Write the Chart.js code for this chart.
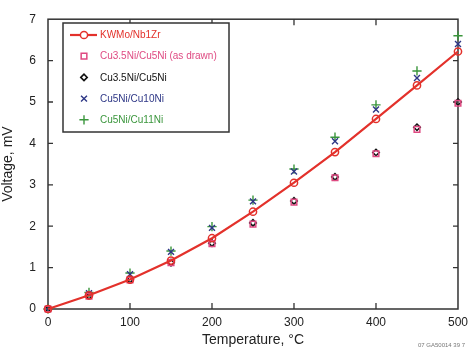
<!DOCTYPE html>
<html><head><meta charset="utf-8">
<script src="https://cdn.jsdelivr.net/npm/chart.js@4"></script>
<style>html,body{margin:0;padding:0;background:#fff}#wrap{width:474px;height:349px;position:relative}</style>
</head><body><div id="wrap"><canvas id="c" width="474" height="349"></canvas></div>
<script>
const temperatures=[0,50,100,150,200,250,300,350,400,450,500];
const kwMoNb1Zr=[0,0.33,0.71,1.17,1.71,2.35,3.05,3.79,4.59,5.40,6.22];
const cu35AsDrawn=[0,0.31,0.70,1.12,1.58,2.05,2.58,3.17,3.75,4.34,4.97];
const cu35Cu5=[0,0.32,0.71,1.12,1.59,2.08,2.61,3.19,3.78,4.39,5.00];
const cu5Cu10=[0,0.38,0.84,1.38,1.96,2.60,3.32,4.05,4.82,5.58,6.40];
const cu5Cu11=[0,0.40,0.87,1.40,1.99,2.63,3.38,4.15,4.93,5.75,6.60];
const xTicks=[0,100,200,300,400,500];
const yTicks=[0,1,2,3,4,5,6,7];
const seriesNames=['KWMo/Nb1Zr','Cu3.5Ni/Cu5Ni (as drawn)','Cu3.5Ni/Cu5Ni','Cu5Ni/Cu10Ni','Cu5Ni/Cu11Ni'];

const RED='#e3312b',PINK='#df4a82',BLACK='#111111',NAVY='#2e3786',GREEN='#3a963c';
const pts=a=>temperatures.map((t,i)=>({x:t,y:a[i]}));

const styles=[
 {color:RED,style:'circle',r:3.6,line:true,w:1.5},
 {color:PINK,style:'rect',r:4,line:false,w:1.5},
 {color:BLACK,style:'rectRot',r:3.2,line:false,w:1.6},
 {color:NAVY,style:'crossRot',r:4.2,line:false,w:1.4},
 {color:GREEN,style:'cross',r:4.6,line:false,w:1.4}
];
const allSeries=[kwMoNb1Zr,cu35AsDrawn,cu35Cu5,cu5Cu10,cu5Cu11];

const datasets=allSeries.map((s,i)=>({
 label:seriesNames[i],data:pts(s),
 showLine:styles[i].line,borderColor:styles[i].color,borderWidth:styles[i].line?2.2:styles[i].w,
 pointStyle:styles[i].style,pointRadius:styles[i].r,pointBorderColor:styles[i].color,
 pointBorderWidth:styles[i].w,pointBackgroundColor:'rgba(0,0,0,0)',tension:0,clip:false
}));

const framePlugin={id:'frame',
 beforeDatasetsDraw(chart){
  const {ctx,chartArea:a,scales:{x,y}}=chart;
  ctx.save();ctx.strokeStyle='#333';ctx.lineWidth=1.5;
  ctx.strokeRect(a.left,a.top,a.right-a.left,a.bottom-a.top);
  ctx.lineWidth=1.3;ctx.beginPath();
  xTicks.slice(1,-1).forEach(v=>{const px=x.getPixelForValue(v);
   ctx.moveTo(px,a.bottom);ctx.lineTo(px,a.bottom-6);ctx.moveTo(px,a.top);ctx.lineTo(px,a.top+6);});
  yTicks.slice(1,-1).forEach(v=>{const py=y.getPixelForValue(v);
   ctx.moveTo(a.left,py);ctx.lineTo(a.left+5,py);ctx.moveTo(a.right,py);ctx.lineTo(a.right-5,py);});
  ctx.stroke();ctx.restore();
 },
 afterDraw(chart){
  const ctx=chart.ctx;ctx.save();
  ctx.fillStyle='#fff';ctx.fillRect(63,23,166,109);
  ctx.strokeStyle='#333';ctx.lineWidth=1.5;ctx.strokeRect(63,23,166,109);
  ctx.font='10px "Liberation Sans", Arial, sans-serif';ctx.textBaseline='middle';ctx.textAlign='left';
  seriesNames.forEach((n,i)=>{
   const yy=35+i*21.2, st=styles[i];
   if(st.line){ctx.strokeStyle=st.color;ctx.lineWidth=2.2;ctx.beginPath();ctx.moveTo(70,yy);ctx.lineTo(97,yy);ctx.stroke();}
   ctx.strokeStyle=st.color;ctx.lineWidth=st.w;
   ctx.fillStyle=st.line?'#fff':'rgba(0,0,0,0)';
   Chart.helpers.drawPoint(ctx,{pointStyle:st.style,radius:st.r,borderWidth:st.w,rotation:0},84,yy);
   ctx.fillStyle=st.color;ctx.fillText(n,100,yy+0.5);
  });
  ctx.font='6px "Liberation Sans", Arial, sans-serif';ctx.fillStyle='#777';ctx.textAlign='left';
  ctx.fillText('07 GA50014 39 7',418,345);
  ctx.restore();
 }
};

new Chart(document.getElementById('c'),{
 type:'scatter',
 data:{datasets},
 options:{
  responsive:false,animation:false,devicePixelRatio:1,
  layout:{padding:{top:6,right:12,left:0,bottom:0}},
  plugins:{legend:{display:false},tooltip:{enabled:false}},
  scales:{
   x:{type:'linear',min:0,max:500,
    afterFit(s){s.height=40;},
    afterBuildTicks(s){s.ticks=xTicks.map(v=>({value:v}));},
    ticks:{color:'#222',font:{size:12,family:'"Liberation Sans", Arial, sans-serif'},padding:6,maxRotation:0,autoSkip:false},
    grid:{display:false,drawTicks:false},border:{display:false},
    title:{display:true,text:'Temperature, °C',color:'#222',font:{size:14,family:'"Liberation Sans", Arial, sans-serif'},padding:{top:0,bottom:0}}},
   y:{type:'linear',min:0,max:7,
    afterFit(s){s.width=48;},
    afterBuildTicks(s){s.ticks=yTicks.map(v=>({value:v}));},
    ticks:{color:'#222',font:{size:12,family:'"Liberation Sans", Arial, sans-serif'},padding:12,autoSkip:false},
    grid:{display:false,drawTicks:false},border:{display:false},
    title:{display:true,text:'Voltage, mV',color:'#222',font:{size:14,family:'"Liberation Sans", Arial, sans-serif'},padding:{top:0,bottom:0}}}
  }
 },
 plugins:[framePlugin]
});
</script></body></html>
